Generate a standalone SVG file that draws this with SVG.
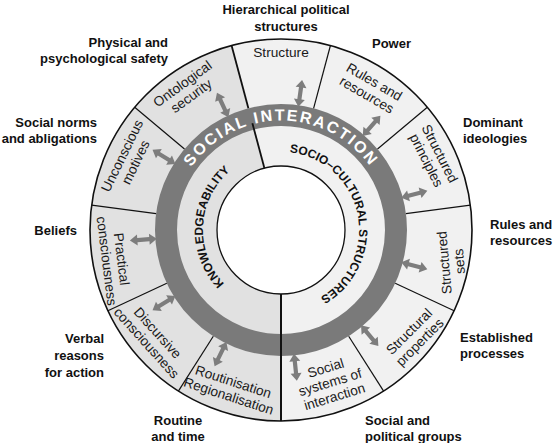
<svg xmlns="http://www.w3.org/2000/svg" xmlns:xlink="http://www.w3.org/1999/xlink" width="553" height="443" viewBox="0 0 553 443">
<style>
.seg{font-family:"Liberation Sans",Arial,sans-serif;font-size:13.7px;fill:#1a1a1a;text-anchor:middle}
.lab{font-family:"Liberation Sans",Arial,sans-serif;font-size:13px;font-weight:bold;fill:#111}
.ring{font-family:"Liberation Sans",Arial,sans-serif;font-weight:bold;text-anchor:middle}
.div{stroke:#111;stroke-width:1.2;fill:none}
.arrow{fill:#7d7d7d}
</style>
<defs>
<path id="arr" d="M-13.5,0 L-6,-5.5 L-6,-2.1 L6,-2.1 L6,-5.5 L13.5,0 L6,5.5 L6,2.1 L-6,2.1 L-6,5.5 Z"/>
<path id="pSI" d="M171.5,230 A109.5,109.5 0 0 1 390.5,230"/>
<path id="pKN" d="M242,297.55 A78,78 0 0 1 249.28,158.74"/>
<path id="pSC" d="M266.12,153.43 A78,78 0 0 1 298.55,306"/>
</defs>
<rect width="553" height="443" fill="#fff"/>
<g id="rings">
<circle cx="281" cy="230" r="191" fill="#f1f1f1"/>
<path d="M281,230 L281,421 A191,191 0 0 1 231.57,45.51 Z" fill="#e1e1e1"/>
<circle cx="281" cy="230" r="115" fill="none" stroke="#7a7a7a" stroke-width="22"/>
<circle cx="281" cy="230" r="64" fill="#fff" stroke="#111" stroke-width="1.3"/>
<circle cx="281" cy="230" r="191" fill="none" stroke="#111" stroke-width="1.6"/>
<g class="div">
<line x1="313.61" y1="108.30" x2="330.43" y2="45.51"/>
<line x1="377.52" y1="149.01" x2="427.31" y2="107.23"/>
<line x1="405.92" y1="213.55" x2="470.36" y2="205.07"/>
<line x1="395.19" y1="283.25" x2="454.11" y2="310.72"/>
<line x1="348.70" y1="336.27" x2="383.62" y2="391.09"/>
<line x1="184.48" y1="149.01" x2="134.69" y2="107.23"/>
<line x1="156.08" y1="213.55" x2="91.64" y2="205.07"/>
<line x1="166.81" y1="283.25" x2="107.89" y2="310.72"/>
<line x1="213.30" y1="336.27" x2="178.38" y2="391.09"/>
<line x1="264.44" y1="168.18" x2="252.39" y2="123.30" stroke-width="1.8"/>
<line x1="248.39" y1="108.30" x2="231.57" y2="45.51" stroke-width="1.8"/>
<line x1="281" y1="294" x2="281" y2="421" stroke-width="2"/>
</g>
<text class="ring" font-size="16" fill="#fff" letter-spacing="2"><textPath xlink:href="#pSI" href="#pSI" startOffset="50%">SOCIAL INTERACTION</textPath></text>
</g>
<g id="knowledgeability"><text class="ring" font-size="12" fill="#111"><textPath xlink:href="#pKN" href="#pKN" startOffset="50%">KNOWLEDGEABILITY</textPath></text></g>
<g id="socio-cultural-structures"><text class="ring" font-size="12" fill="#111"><textPath xlink:href="#pSC" href="#pSC" startOffset="50%">SOCIO–CULTURAL STRUCTURES</textPath></text></g>
<g id="seg-structure"><text class="seg" x="281" y="57">Structure</text></g>
<g id="seg-rules" transform="translate(370.5,88.5) rotate(30)"><text class="seg" y="-3">Rules and</text><text class="seg" y="12">resources</text></g>
<g id="seg-principles" transform="translate(433,157) rotate(63)"><text class="seg" y="-3">Structured</text><text class="seg" y="12">principles</text></g>
<g id="seg-sets" transform="translate(452,262) rotate(-95)"><text class="seg" y="-3">Structured</text><text class="seg" y="12">sets</text></g>
<g id="seg-properties" transform="translate(414.5,337) rotate(-45)"><text class="seg" y="-3">Structural</text><text class="seg" y="12">properties</text></g>
<g id="seg-social-systems" transform="translate(330,382) rotate(-17)"><text class="seg" y="-10">Social</text><text class="seg" y="5">systems of</text><text class="seg" y="20">interaction</text></g>
<g id="seg-routinisation" transform="translate(231,389) rotate(18)"><text class="seg" y="-3">Routinisation</text><text class="seg" y="12">Regionalisation</text></g>
<g id="seg-discursive" transform="translate(152,338) rotate(48)"><text class="seg" y="-3">Discursive</text><text class="seg" y="12">consciousness</text></g>
<g id="seg-practical" transform="translate(114,260) rotate(83)"><text class="seg" y="-3">Practical</text><text class="seg" y="12">consciousness</text></g>
<g id="seg-unconscious" transform="translate(129,159) rotate(-64)"><text class="seg" y="-3">Unconscious</text><text class="seg" y="12">motives</text></g>
<g id="seg-ontological" transform="translate(187,90) rotate(-36)"><text class="seg" y="-3">Ontological</text><text class="seg" y="12">security</text></g>
<g id="connectors" class="arrow">
<use href="#arr" xlink:href="#arr" transform="translate(300.21,93.34) rotate(-82)"/>
<use href="#arr" xlink:href="#arr" transform="translate(371.54,125.85) rotate(-49)"/>
<use href="#arr" xlink:href="#arr" transform="translate(414.30,194.28) rotate(-15)"/>
<use href="#arr" xlink:href="#arr" transform="translate(414.30,265.72) rotate(15)"/>
<use href="#arr" xlink:href="#arr" transform="translate(369.70,335.71) rotate(50)"/>
<use href="#arr" xlink:href="#arr" transform="translate(295.42,367.24) rotate(84)"/>
<use href="#arr" xlink:href="#arr" transform="translate(220.50,354.03) rotate(116)"/>
<use href="#arr" xlink:href="#arr" transform="translate(163.97,303.13) rotate(148)"/>
<use href="#arr" xlink:href="#arr" transform="translate(143.34,239.63) rotate(176)"/>
<use href="#arr" xlink:href="#arr" transform="translate(163.97,156.87) rotate(-148)"/>
<use href="#arr" xlink:href="#arr" transform="translate(222.68,104.93) rotate(-115)"/>
</g>
<g id="label-hierarchical" class="lab" text-anchor="middle"><text x="286" y="14">Hierarchical political</text><text x="286" y="31">structures</text></g>
<g id="label-power" class="lab"><text x="372" y="48">Power</text></g>
<g id="label-safety" class="lab" text-anchor="end"><text x="168" y="47">Physical and</text><text x="168" y="63">psychological safety</text></g>
<g id="label-ideologies" class="lab"><text x="463" y="127">Dominant</text><text x="463" y="143">ideologies</text></g>
<g id="label-norms" class="lab" text-anchor="end"><text x="97" y="127">Social norms</text><text x="97" y="143">and abligations</text></g>
<g id="label-beliefs" class="lab" text-anchor="end"><text x="77" y="235">Beliefs</text></g>
<g id="label-rules" class="lab"><text x="490" y="229">Rules and</text><text x="490" y="245">resources</text></g>
<g id="label-verbal" class="lab" text-anchor="end"><text x="104" y="343">Verbal</text><text x="104" y="360">reasons</text><text x="104" y="377">for action</text></g>
<g id="label-established" class="lab"><text x="460" y="342">Established</text><text x="460" y="358">processes</text></g>
<g id="label-routine" class="lab" text-anchor="middle"><text x="178" y="425">Routine</text><text x="178" y="441">and time</text></g>
<g id="label-groups" class="lab"><text x="365" y="425">Social and</text><text x="365" y="441">political groups</text></g>
</svg>
